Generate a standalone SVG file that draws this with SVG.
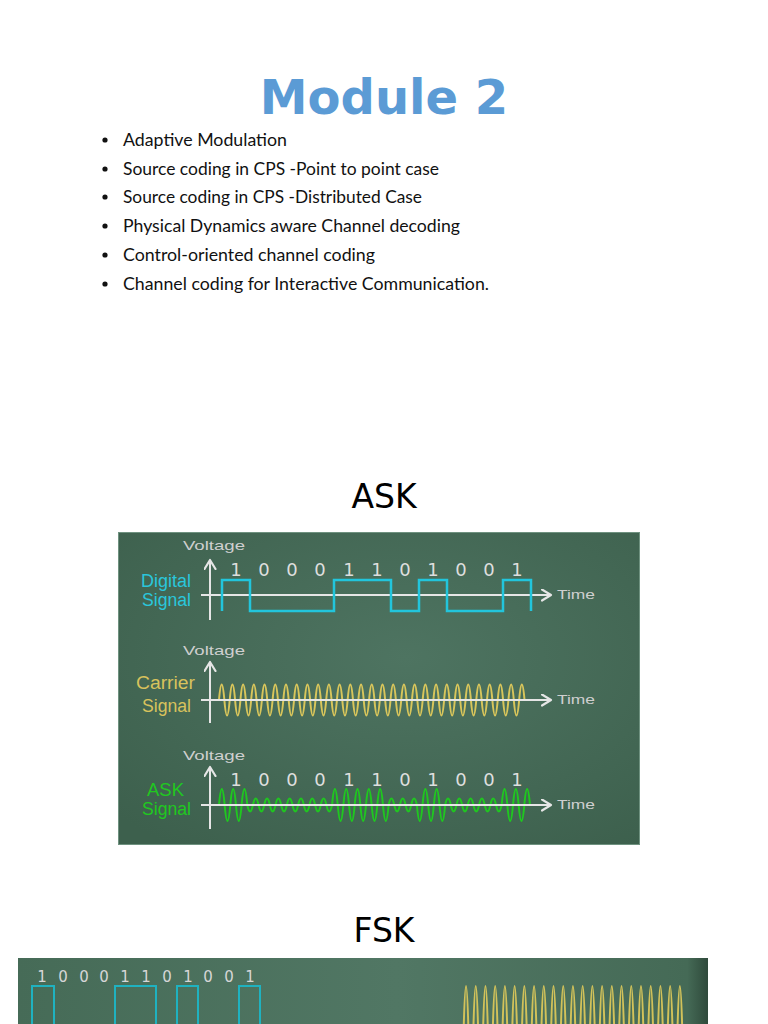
<svg xmlns="http://www.w3.org/2000/svg" width="768" height="1024" viewBox="0 0 768 1024">
<defs>
<radialGradient id="board" cx="0.55" cy="0.4" r="0.75">
<stop offset="0" stop-color="#4e7461"/>
<stop offset="1" stop-color="#3d604d"/>
</radialGradient>
<linearGradient id="board2" x1="0" y1="0" x2="1" y2="0">
<stop offset="0" stop-color="#466b57"/>
<stop offset="0.55" stop-color="#517764"/>
<stop offset="0.97" stop-color="#456a56"/>
<stop offset="1" stop-color="#2f4a3b"/>
</linearGradient>
<marker id="chev" markerUnits="userSpaceOnUse" markerWidth="14" markerHeight="14" refX="10" refY="6" orient="auto">
<path d="M1,0.5 L10,6 L1,11.5" fill="none" stroke="#e6e6e6" stroke-width="2.2" stroke-linejoin="round" stroke-linecap="round"/>
</marker>
<clipPath id="fskclip"><rect x="18" y="958" width="690" height="66"/></clipPath>
</defs>
<style>
.title{font-family:"DejaVu Sans",sans-serif;font-weight:bold;font-size:48px;fill:#5b9bd5}
.bul{font-family:Lato,"Carlito","Liberation Sans",sans-serif;font-size:17px;fill:#111}
.sec{font-family:"DejaVu Sans",sans-serif;font-size:33px;fill:#000}
.volt{font-family:"Liberation Sans",sans-serif;font-size:13px;fill:#cfcfcf}
.time{font-family:"Liberation Sans",sans-serif;font-size:13px;fill:#cfcfcf}
.dig{font-family:"DejaVu Sans",sans-serif;font-size:18px;fill:#dedede;text-anchor:middle}
.dig2{font-family:"DejaVu Sans",sans-serif;font-size:15px;fill:#d6d6d6;text-anchor:middle}
.axis{stroke:#e6e6e6;stroke-width:2;fill:none}
.lab{font-family:"Liberation Sans",sans-serif;font-size:18px}
</style>
<rect width="768" height="1024" fill="#ffffff"/>

<g id="title">
<text class="title" x="384" y="114" text-anchor="middle">Module 2</text>
</g>

<g id="bullets">
<circle cx="105" cy="140" r="2.6" fill="#111"/>
<text class="bul" x="123" y="146" textLength="164" lengthAdjust="spacingAndGlyphs">Adaptive Modulation</text>
<circle cx="105" cy="169" r="2.6" fill="#111"/>
<text class="bul" x="123" y="175" textLength="316" lengthAdjust="spacingAndGlyphs">Source coding in CPS -Point to point case</text>
<circle cx="105" cy="197" r="2.6" fill="#111"/>
<text class="bul" x="123" y="203" textLength="299" lengthAdjust="spacingAndGlyphs">Source coding in CPS -Distributed Case</text>
<circle cx="105" cy="226" r="2.6" fill="#111"/>
<text class="bul" x="123" y="232" textLength="337" lengthAdjust="spacingAndGlyphs">Physical Dynamics aware Channel decoding</text>
<circle cx="105" cy="255" r="2.6" fill="#111"/>
<text class="bul" x="123" y="261" textLength="252" lengthAdjust="spacingAndGlyphs">Control-oriented channel coding</text>
<circle cx="105" cy="284" r="2.6" fill="#111"/>
<text class="bul" x="123" y="290" textLength="366" lengthAdjust="spacingAndGlyphs">Channel coding for Interactive Communication.</text>
</g>

<g id="ask-heading">
<text class="sec" x="384" y="508" text-anchor="middle">ASK</text>
</g>

<g id="ask-figure">
<rect x="118.5" y="532.5" width="521" height="312" fill="url(#board)" stroke="#6f9280" stroke-width="1"/>

<!-- digital signal -->
<text class="volt" x="183" y="550" textLength="62" lengthAdjust="spacingAndGlyphs">Voltage</text>
<text class="lab" x="141" y="587" fill="#2ac6dc" textLength="50" lengthAdjust="spacingAndGlyphs">Digital</text>
<text class="lab" x="142" y="606" fill="#2ac6dc" textLength="49" lengthAdjust="spacingAndGlyphs">Signal</text>
<g>
<text class="dig" x="236" y="576">1</text><text class="dig" x="264" y="576">0</text><text class="dig" x="292" y="576">0</text><text class="dig" x="320" y="576">0</text><text class="dig" x="349" y="576">1</text><text class="dig" x="377" y="576">1</text><text class="dig" x="405" y="576">0</text><text class="dig" x="433" y="576">1</text><text class="dig" x="461" y="576">0</text><text class="dig" x="489" y="576">0</text><text class="dig" x="517" y="576">1</text>
</g>
<path class="axis" d="M210 620 V560" marker-end="url(#chev)"/>
<path class="axis" d="M201 595 H551" marker-end="url(#chev)"/>
<text class="time" x="557" y="599" textLength="38" lengthAdjust="spacingAndGlyphs">Time</text>
<path d="M222 611 V580 H250 V611 H334 V580 H391 V611 H419 V580 H447 V611 H503 V580 H531 V611" fill="none" stroke="#22c5dc" stroke-width="2.5"/>

<!-- carrier -->
<text class="volt" x="183" y="655" textLength="62" lengthAdjust="spacingAndGlyphs">Voltage</text>
<text class="lab" x="136" y="689" fill="#d8c25c" textLength="59" lengthAdjust="spacingAndGlyphs">Carrier</text>
<text class="lab" x="142" y="712" fill="#d8c25c" textLength="49" lengthAdjust="spacingAndGlyphs">Signal</text>
<path class="axis" d="M210 723 V662" marker-end="url(#chev)"/>
<path d="M219 700 q2.68 -31 5.36 0 t5.36 0 t5.36 0 t5.36 0 t5.36 0 t5.36 0 t5.36 0 t5.36 0 t5.36 0 t5.36 0 t5.36 0 t5.36 0 t5.36 0 t5.36 0 t5.36 0 t5.36 0 t5.36 0 t5.36 0 t5.36 0 t5.36 0 t5.36 0 t5.36 0 t5.36 0 t5.36 0 t5.36 0 t5.36 0 t5.36 0 t5.36 0 t5.36 0 t5.36 0 t5.36 0 t5.36 0 t5.36 0 t5.36 0 t5.36 0 t5.36 0 t5.36 0 t5.36 0 t5.36 0 t5.36 0 t5.36 0 t5.36 0 t5.36 0 t5.36 0 t5.36 0 t5.36 0 t5.36 0 t5.36 0 t5.36 0 t5.36 0 t5.36 0 t5.36 0 t5.36 0 t5.36 0 t5.36 0 t5.36 0 t5.36 0" fill="none" stroke="#d9c65b" stroke-width="2"/>
<path class="axis" d="M201 700 H551" marker-end="url(#chev)"/>
<text class="time" x="557" y="704" textLength="38" lengthAdjust="spacingAndGlyphs">Time</text>

<!-- ASK signal -->
<text class="volt" x="183" y="760" textLength="62" lengthAdjust="spacingAndGlyphs">Voltage</text>
<text class="lab" x="147" y="796" fill="#20c820" textLength="37" lengthAdjust="spacingAndGlyphs">ASK</text>
<text class="lab" x="142" y="815" fill="#20c820" textLength="49" lengthAdjust="spacingAndGlyphs">Signal</text>
<g>
<text class="dig" x="236" y="786">1</text><text class="dig" x="264" y="786">0</text><text class="dig" x="292" y="786">0</text><text class="dig" x="320" y="786">0</text><text class="dig" x="349" y="786">1</text><text class="dig" x="377" y="786">1</text><text class="dig" x="405" y="786">0</text><text class="dig" x="433" y="786">1</text><text class="dig" x="461" y="786">0</text><text class="dig" x="489" y="786">0</text><text class="dig" x="517" y="786">1</text>
</g>
<path class="axis" d="M210 829 V767" marker-end="url(#chev)"/>
<path d="M219 805
q2.83 -32 5.654 0 q2.83 32 5.654 0 q2.83 -32 5.654 0 q2.83 32 5.654 0 q2.83 -32 5.654 0
q2.83 13 5.654 0 q2.83 -13 5.654 0 q2.83 13 5.654 0 q2.83 -13 5.654 0 q2.83 13 5.654 0
q2.83 -13 5.654 0 q2.83 13 5.654 0 q2.83 -13 5.654 0 q2.83 13 5.654 0 q2.83 -13 5.654 0
q2.83 13 5.654 0 q2.83 -13 5.654 0 q2.83 13 5.654 0 q2.83 -13 5.654 0 q2.83 13 5.654 0
q2.83 -32 5.654 0 q2.83 32 5.654 0 q2.83 -32 5.654 0 q2.83 32 5.654 0 q2.83 -32 5.654 0
q2.83 32 5.654 0 q2.83 -32 5.654 0 q2.83 32 5.654 0 q2.83 -32 5.654 0 q2.83 32 5.654 0
q2.83 -13 5.654 0 q2.83 13 5.654 0 q2.83 -13 5.654 0 q2.83 13 5.654 0 q2.83 -13 5.654 0
q2.83 32 5.654 0 q2.83 -32 5.654 0 q2.83 32 5.654 0 q2.83 -32 5.654 0 q2.83 32 5.654 0
q2.83 -13 5.654 0 q2.83 13 5.654 0 q2.83 -13 5.654 0 q2.83 13 5.654 0 q2.83 -13 5.654 0
q2.83 13 5.654 0 q2.83 -13 5.654 0 q2.83 13 5.654 0 q2.83 -13 5.654 0 q2.83 13 5.654 0
q2.83 -32 5.654 0 q2.83 32 5.654 0 q2.83 -32 5.654 0 q2.83 32 5.654 0 q2.83 -32 5.654 0" fill="none" stroke="#1fc81f" stroke-width="2"/>
<path class="axis" d="M201 805 H551" marker-end="url(#chev)"/>
<text class="time" x="557" y="809" textLength="38" lengthAdjust="spacingAndGlyphs">Time</text>
</g>

<g id="fsk-heading">
<text class="sec" x="384" y="942" text-anchor="middle">FSK</text>
</g>

<g id="fsk-figure" clip-path="url(#fskclip)">
<rect x="18" y="958" width="690" height="70" fill="url(#board2)"/>
<g>
<text class="dig2" x="42" y="982">1</text><text class="dig2" x="63" y="982">0</text><text class="dig2" x="84" y="982">0</text><text class="dig2" x="104" y="982">0</text><text class="dig2" x="125" y="982">1</text><text class="dig2" x="146" y="982">1</text><text class="dig2" x="167" y="982">0</text><text class="dig2" x="188" y="982">1</text><text class="dig2" x="208" y="982">0</text><text class="dig2" x="229" y="982">0</text><text class="dig2" x="250" y="982">1</text>
</g>
<path d="M32 1030 V986 H54 V1030 M115 1030 V986 H156 V1030 M177 1030 V986 H198 V1030 M239 1030 V986 H260 V1030" fill="none" stroke="#1fb2c0" stroke-width="2"/>
<path d="M463.6 1031 q2.43 -90 4.86 0 t4.86 0 t4.86 0 t4.86 0 t4.86 0 t4.86 0 t4.86 0 t4.86 0 t4.86 0 t4.86 0 t4.86 0 t4.86 0 t4.86 0 t4.86 0 t4.86 0 t4.86 0 t4.86 0 t4.86 0 t4.86 0 t4.86 0 t4.86 0 t4.86 0 t4.86 0 t4.86 0 t4.86 0 t4.86 0 t4.86 0 t4.86 0 t4.86 0 t4.86 0 t4.86 0 t4.86 0 t4.86 0 t4.86 0 t4.86 0 t4.86 0 t4.86 0 t4.86 0 t4.86 0 t4.86 0 t4.86 0 t4.86 0 t4.86 0 t4.86 0 t4.86 0" fill="none" stroke="#d2c25a" stroke-width="2"/>
</g>
</svg>
